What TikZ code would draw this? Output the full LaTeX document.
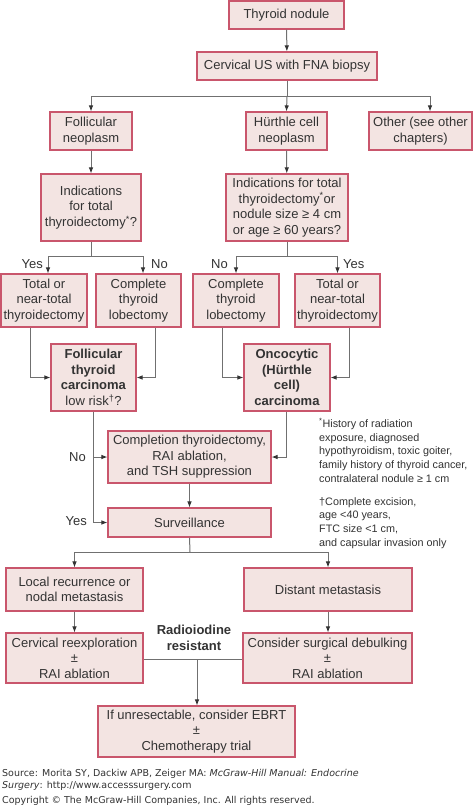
\documentclass[tikz,border=0pt]{standalone}
\usepackage{fontspec}
\setmainfont{Liberation Sans}
\newfontfamily\srcfont{DejaVu Sans}
\usetikzlibrary{arrows.meta}
\definecolor{boxfill}{HTML}{F3E4E2}
\definecolor{boxline}{HTML}{C9566C}
\definecolor{txt}{HTML}{333333}
\definecolor{wirecol}{HTML}{707070}
\begin{document}
\begin{tikzpicture}[x=1pt,y=-1pt,
  box/.style={draw=boxline, fill=boxfill, line width=1.1pt, align=center, inner sep=0pt, text=txt, font=\fontsize{13}{15.5}\selectfont},
  arr/.style={draw=wirecol, line width=1pt, -{Latex[length=6pt,width=4.6pt,color=txt]}},
  wire/.style={draw=wirecol, line width=1pt},
  lab/.style={text=txt, font=\fontsize{13}{15.5}\selectfont, inner sep=0pt},
  note/.style={text=txt, font=\fontsize{10.8}{13.8}\selectfont, inner sep=0pt, align=left},
  src/.style={text=txt, font=\srcfont\fontsize{9.5}{11.5}\selectfont, inner sep=0pt, align=left}]
\useasboundingbox[fill=white] (0,0) rectangle (474,806);

% boxes
\node[box, minimum width=115pt, minimum height=28pt] (nod) at (286.5,15) {Thyroid nodule};
\node[box, minimum width=180pt, minimum height=28pt] (us) at (287,66) {Cervical US with FNA biopsy};
\node[box, minimum width=82pt, minimum height=38pt] (fol) at (91,131) {Follicular\\neoplasm};
\node[box, minimum width=81pt, minimum height=38pt] (hur) at (286.5,131) {H\"urthle cell\\neoplasm};
\node[box, minimum width=103pt, minimum height=38pt] (oth) at (420.5,131) {Other (see other\\chapters)};
\node[box, minimum width=100pt, minimum height=67pt] (indL) at (91,207.5) {Indications\\for total\\thyroidectomy\textsuperscript{*}?};
\node[box, minimum width=122pt, minimum height=67pt] (indR) at (287,207.5) {Indications for total\\thyroidectomy\textsuperscript{*}or\\nodule size ≥ 4 cm\\or age ≥ 60 years?};
\node[box, minimum width=86pt, minimum height=53pt] (totL) at (44,300.5) {Total or\\near-total\\thyroidectomy};
\node[box, minimum width=85pt, minimum height=53pt] (lobL) at (138.5,300.5) {Complete\\thyroid\\lobectomy};
\node[box, minimum width=86pt, minimum height=53pt] (lobR) at (236,300.5) {Complete\\thyroid\\lobectomy};
\node[box, minimum width=85pt, minimum height=53pt] (totR) at (337.5,300.5) {Total or\\near-total\\thyroidectomy};
\node[box, minimum width=85pt, minimum height=67pt] (ftc) at (93.5,377.5) {\textbf{Follicular}\\\textbf{thyroid}\\\textbf{carcinoma}\\low risk\textsuperscript{†}?};
\node[box, minimum width=86pt, minimum height=67pt, font=\fontsize{13}{15.5}\selectfont\bfseries] (onc) at (287,377.5) {Oncocytic\\(H\"urthle\\cell)\\carcinoma};
\node[box, minimum width=163pt, minimum height=52pt] (comp) at (189.5,457) {Completion thyroidectomy,\\RAI ablation,\\and TSH suppression};
\node[box, minimum width=163pt, minimum height=29pt] (surv) at (189.5,522.5) {Surveillance};
\node[box, minimum width=137pt, minimum height=43pt] (loc) at (74.5,589.5) {Local recurrence or\\nodal metastasis};
\node[box, minimum width=168pt, minimum height=43pt] (dist) at (328,589.5) {Distant metastasis};
\node[box, minimum width=137pt, minimum height=50pt] (cerv) at (74.5,658) {Cervical reexploration\\±\\RAI ablation};
\node[box, minimum width=169pt, minimum height=50pt] (deb) at (327.5,658) {Consider surgical debulking\\±\\RAI ablation};
\node[box, minimum width=197pt, minimum height=51pt] (unres) at (196.5,731.5) {If unresectable, consider EBRT\\±\\Chemotherapy trial};

% labels
\node[lab, anchor=east] (yesL) at (43,264) {Yes};
\node[lab, anchor=west] (noL) at (151,264) {No};
\node[lab, anchor=east] (noR) at (228,264) {No};
\node[lab, anchor=west] (yesR) at (343,264) {Yes};
\node[lab, anchor=east] (noC) at (86,457) {No};
\node[lab, anchor=east] (yesS) at (87,521) {Yes};
\node[lab, align=center, font=\fontsize{13}{15.5}\selectfont\bfseries] (rad) at (194,638) {Radioiodine\\resistant};

% footnotes
\node[note, anchor=north west] (fn1) at (319,418) {\textsuperscript{*}History of radiation\\exposure, diagnosed\\hypothyroidism, toxic goiter,\\family history of thyroid cancer,\\contralateral nodule ≥ 1 cm};
\node[note, anchor=north west] (fn2) at (319,497) {†Complete excision,\\age <40 years,\\FTC size <1 cm,\\and capsular invasion only};
\node[src, anchor=north west] (srcn) at (2,769.5) {Source: Morita SY, Dackiw APB, Zeiger MA: \textit{McGraw-Hill Manual: Endocrine}\\\textit{Surgery}: http://www.accesssurgery.com};
\node[src, anchor=north west] (copy) at (2,796.5) {Copyright © The McGraw-Hill Companies, Inc. All rights reserved.};

% connectors
\coordinate (s1) at (287,96);
\coordinate (s2) at (91,256);
\coordinate (s3) at (287,256);
\coordinate (s4) at (190,552);
\coordinate (s5) at (197,659);

\draw[arr] (nod) -- (us);
\draw[wire] (us.south) -- (s1);
\draw[arr] (s1) -| (fol.north);
\draw[arr] (s1) -- (hur.north);
\draw[arr] (s1) -| ([xshift=9.5pt]oth.north);
\draw[arr] (fol) -- (indL);
\draw[arr] (hur) -- (indR);
\draw[wire] (indL.south) -- (s2);
\draw[arr] (s2) -| ([xshift=4pt]totL.north);
\draw[arr] (s2) -| ([xshift=4.5pt]lobL.north);
\draw[wire] (indR.south) -- (s3);
\draw[arr] (s3) -| (lobR.north);
\draw[arr] (s3) -| (totR.north);
\draw[arr] ([xshift=-14pt]totL.south) |- (ftc.west);
\draw[arr] ([xshift=16.5pt]lobL.south) |- (ftc.east);
\draw[arr] ([xshift=-14pt]lobR.south) |- (onc.west);
\draw[arr] ([xshift=11.5pt]totR.south) |- (onc.east);
\draw[arr] ([xshift=-1pt]onc.south) |- (comp.east);
\draw[arr] (ftc.south) |- (surv.west);
\draw[arr] (ftc.south |- comp.west) -- (comp.west);
\draw[arr] (comp) -- (surv);
\draw[wire] (surv.south) -- (s4);
\draw[arr] (s4) -| (loc.north);
\draw[arr] (s4) -| (dist.north);
\draw[arr] (loc) -- (cerv);
\draw[arr] (dist.south) -- ([xshift=0.5pt]deb.north);
\draw[wire] (cerv.east |- s5) -- (deb.west |- s5);
\draw[arr] (s5) -- (s5 |- unres.north);
\end{tikzpicture}
\end{document}
